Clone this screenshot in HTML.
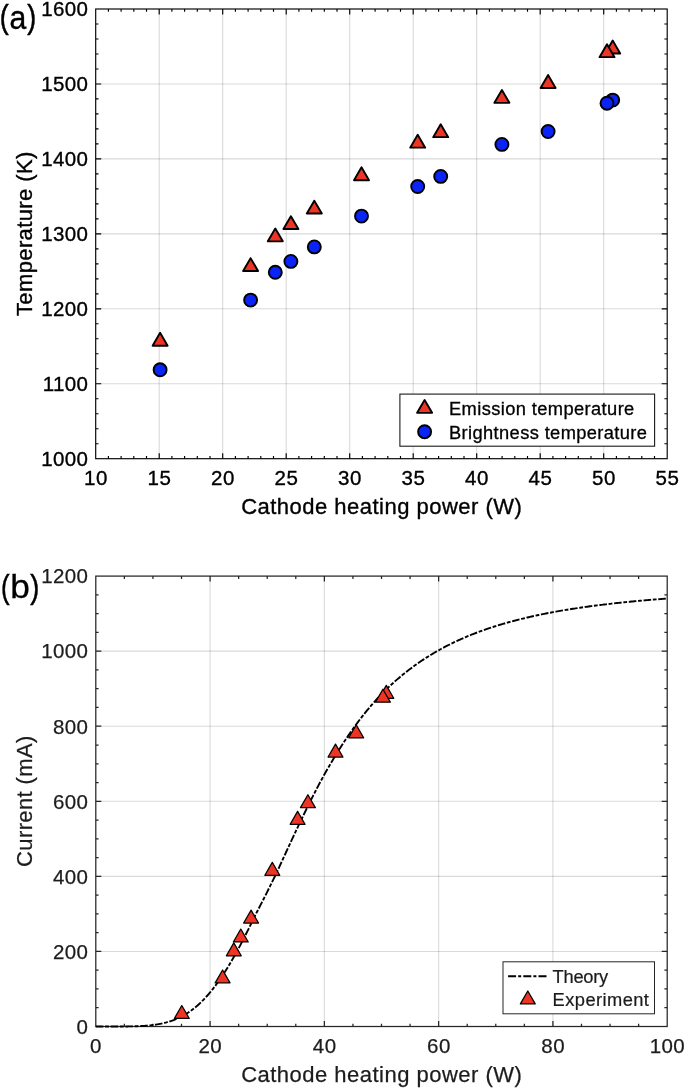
<!DOCTYPE html>
<html lang="en"><head><meta charset="utf-8"><title>Cathode heating power</title>
<style>html,body{margin:0;padding:0;background:#fff}svg{display:block}text{font-family:"Liberation Sans", sans-serif}</style></head><body>
<svg width="685" height="1088" viewBox="0 0 685 1088">
<rect width="685" height="1088" fill="#fff"/>
<line x1="159.20" y1="9.0" x2="159.20" y2="458.7" stroke="rgba(0,0,0,0.15)" stroke-width="1.1"/>
<line x1="222.70" y1="9.0" x2="222.70" y2="458.7" stroke="rgba(0,0,0,0.15)" stroke-width="1.1"/>
<line x1="286.20" y1="9.0" x2="286.20" y2="458.7" stroke="rgba(0,0,0,0.15)" stroke-width="1.1"/>
<line x1="349.70" y1="9.0" x2="349.70" y2="458.7" stroke="rgba(0,0,0,0.15)" stroke-width="1.1"/>
<line x1="413.20" y1="9.0" x2="413.20" y2="458.7" stroke="rgba(0,0,0,0.15)" stroke-width="1.1"/>
<line x1="476.70" y1="9.0" x2="476.70" y2="458.7" stroke="rgba(0,0,0,0.15)" stroke-width="1.1"/>
<line x1="540.20" y1="9.0" x2="540.20" y2="458.7" stroke="rgba(0,0,0,0.15)" stroke-width="1.1"/>
<line x1="603.70" y1="9.0" x2="603.70" y2="458.7" stroke="rgba(0,0,0,0.15)" stroke-width="1.1"/>
<line x1="95.7" y1="383.75" x2="667.2" y2="383.75" stroke="rgba(0,0,0,0.15)" stroke-width="1.1"/>
<line x1="95.7" y1="308.80" x2="667.2" y2="308.80" stroke="rgba(0,0,0,0.15)" stroke-width="1.1"/>
<line x1="95.7" y1="233.85" x2="667.2" y2="233.85" stroke="rgba(0,0,0,0.15)" stroke-width="1.1"/>
<line x1="95.7" y1="158.90" x2="667.2" y2="158.90" stroke="rgba(0,0,0,0.15)" stroke-width="1.1"/>
<line x1="95.7" y1="83.95" x2="667.2" y2="83.95" stroke="rgba(0,0,0,0.15)" stroke-width="1.1"/>
<path d="M159.20 458.7v-5.5M159.20 9.0v5.5M222.70 458.7v-5.5M222.70 9.0v5.5M286.20 458.7v-5.5M286.20 9.0v5.5M349.70 458.7v-5.5M349.70 9.0v5.5M413.20 458.7v-5.5M413.20 9.0v5.5M476.70 458.7v-5.5M476.70 9.0v5.5M540.20 458.7v-5.5M540.20 9.0v5.5M603.70 458.7v-5.5M603.70 9.0v5.5M108.40 458.7v-2.8M108.40 9.0v2.8M121.10 458.7v-2.8M121.10 9.0v2.8M133.80 458.7v-2.8M133.80 9.0v2.8M146.50 458.7v-2.8M146.50 9.0v2.8M171.90 458.7v-2.8M171.90 9.0v2.8M184.60 458.7v-2.8M184.60 9.0v2.8M197.30 458.7v-2.8M197.30 9.0v2.8M210.00 458.7v-2.8M210.00 9.0v2.8M235.40 458.7v-2.8M235.40 9.0v2.8M248.10 458.7v-2.8M248.10 9.0v2.8M260.80 458.7v-2.8M260.80 9.0v2.8M273.50 458.7v-2.8M273.50 9.0v2.8M298.90 458.7v-2.8M298.90 9.0v2.8M311.60 458.7v-2.8M311.60 9.0v2.8M324.30 458.7v-2.8M324.30 9.0v2.8M337.00 458.7v-2.8M337.00 9.0v2.8M362.40 458.7v-2.8M362.40 9.0v2.8M375.10 458.7v-2.8M375.10 9.0v2.8M387.80 458.7v-2.8M387.80 9.0v2.8M400.50 458.7v-2.8M400.50 9.0v2.8M425.90 458.7v-2.8M425.90 9.0v2.8M438.60 458.7v-2.8M438.60 9.0v2.8M451.30 458.7v-2.8M451.30 9.0v2.8M464.00 458.7v-2.8M464.00 9.0v2.8M489.40 458.7v-2.8M489.40 9.0v2.8M502.10 458.7v-2.8M502.10 9.0v2.8M514.80 458.7v-2.8M514.80 9.0v2.8M527.50 458.7v-2.8M527.50 9.0v2.8M552.90 458.7v-2.8M552.90 9.0v2.8M565.60 458.7v-2.8M565.60 9.0v2.8M578.30 458.7v-2.8M578.30 9.0v2.8M591.00 458.7v-2.8M591.00 9.0v2.8M616.40 458.7v-2.8M616.40 9.0v2.8M629.10 458.7v-2.8M629.10 9.0v2.8M641.80 458.7v-2.8M641.80 9.0v2.8M654.50 458.7v-2.8M654.50 9.0v2.8M95.7 383.75h5.5M667.2 383.75h-5.5M95.7 308.80h5.5M667.2 308.80h-5.5M95.7 233.85h5.5M667.2 233.85h-5.5M95.7 158.90h5.5M667.2 158.90h-5.5M95.7 83.95h5.5M667.2 83.95h-5.5M95.7 443.71h2.8M667.2 443.71h-2.8M95.7 428.72h2.8M667.2 428.72h-2.8M95.7 413.73h2.8M667.2 413.73h-2.8M95.7 398.74h2.8M667.2 398.74h-2.8M95.7 368.76h2.8M667.2 368.76h-2.8M95.7 353.77h2.8M667.2 353.77h-2.8M95.7 338.78h2.8M667.2 338.78h-2.8M95.7 323.79h2.8M667.2 323.79h-2.8M95.7 293.81h2.8M667.2 293.81h-2.8M95.7 278.82h2.8M667.2 278.82h-2.8M95.7 263.83h2.8M667.2 263.83h-2.8M95.7 248.84h2.8M667.2 248.84h-2.8M95.7 218.86h2.8M667.2 218.86h-2.8M95.7 203.87h2.8M667.2 203.87h-2.8M95.7 188.88h2.8M667.2 188.88h-2.8M95.7 173.89h2.8M667.2 173.89h-2.8M95.7 143.91h2.8M667.2 143.91h-2.8M95.7 128.92h2.8M667.2 128.92h-2.8M95.7 113.93h2.8M667.2 113.93h-2.8M95.7 98.94h2.8M667.2 98.94h-2.8M95.7 68.96h2.8M667.2 68.96h-2.8M95.7 53.97h2.8M667.2 53.97h-2.8M95.7 38.98h2.8M667.2 38.98h-2.8M95.7 23.99h2.8M667.2 23.99h-2.8" stroke="#000" stroke-width="1.15" fill="none"/>
<rect x="95.7" y="9.0" width="571.50" height="449.70" fill="none" stroke="#000" stroke-width="1.15"/>
<g>
<path d="M152.60 345.75L167.60 345.75L160.10 332.85Z" fill="#ee3524" stroke="#000" stroke-width="1.9" stroke-linejoin="round"/>
<path d="M243.10 271.05L258.10 271.05L250.60 258.15Z" fill="#ee3524" stroke="#000" stroke-width="1.9" stroke-linejoin="round"/>
<path d="M267.80 241.35L282.80 241.35L275.30 228.45Z" fill="#ee3524" stroke="#000" stroke-width="1.9" stroke-linejoin="round"/>
<path d="M283.40 229.05L298.40 229.05L290.90 216.15Z" fill="#ee3524" stroke="#000" stroke-width="1.9" stroke-linejoin="round"/>
<path d="M306.80 213.55L321.80 213.55L314.30 200.65Z" fill="#ee3524" stroke="#000" stroke-width="1.9" stroke-linejoin="round"/>
<path d="M354.00 180.25L369.00 180.25L361.50 167.35Z" fill="#ee3524" stroke="#000" stroke-width="1.9" stroke-linejoin="round"/>
<path d="M410.20 147.65L425.20 147.65L417.70 134.75Z" fill="#ee3524" stroke="#000" stroke-width="1.9" stroke-linejoin="round"/>
<path d="M433.20 137.15L448.20 137.15L440.70 124.25Z" fill="#ee3524" stroke="#000" stroke-width="1.9" stroke-linejoin="round"/>
<path d="M494.40 102.85L509.40 102.85L501.90 89.95Z" fill="#ee3524" stroke="#000" stroke-width="1.9" stroke-linejoin="round"/>
<path d="M540.60 87.95L555.60 87.95L548.10 75.05Z" fill="#ee3524" stroke="#000" stroke-width="1.9" stroke-linejoin="round"/>
<path d="M605.20 53.45L620.20 53.45L612.70 40.55Z" fill="#ee3524" stroke="#000" stroke-width="1.9" stroke-linejoin="round"/>
<path d="M599.50 57.15L614.50 57.15L607.00 44.25Z" fill="#ee3524" stroke="#000" stroke-width="1.9" stroke-linejoin="round"/>
</g><g>
<circle cx="160.10" cy="369.80" r="6.5" fill="#0a24f5" stroke="#000" stroke-width="1.9"/>
<circle cx="250.60" cy="300.10" r="6.5" fill="#0a24f5" stroke="#000" stroke-width="1.9"/>
<circle cx="275.30" cy="272.30" r="6.5" fill="#0a24f5" stroke="#000" stroke-width="1.9"/>
<circle cx="290.90" cy="261.40" r="6.5" fill="#0a24f5" stroke="#000" stroke-width="1.9"/>
<circle cx="314.30" cy="246.90" r="6.5" fill="#0a24f5" stroke="#000" stroke-width="1.9"/>
<circle cx="361.50" cy="216.10" r="6.5" fill="#0a24f5" stroke="#000" stroke-width="1.9"/>
<circle cx="417.70" cy="186.50" r="6.5" fill="#0a24f5" stroke="#000" stroke-width="1.9"/>
<circle cx="440.70" cy="176.40" r="6.5" fill="#0a24f5" stroke="#000" stroke-width="1.9"/>
<circle cx="501.90" cy="144.40" r="6.5" fill="#0a24f5" stroke="#000" stroke-width="1.9"/>
<circle cx="548.10" cy="131.50" r="6.5" fill="#0a24f5" stroke="#000" stroke-width="1.9"/>
<circle cx="612.70" cy="100.10" r="6.5" fill="#0a24f5" stroke="#000" stroke-width="1.9"/>
<circle cx="607.00" cy="103.20" r="6.5" fill="#0a24f5" stroke="#000" stroke-width="1.9"/>
</g>
<g font-size="20.5" fill="#000" stroke="#000" stroke-width="0.35" text-anchor="end">
<text x="88.0" y="466.00" textLength="46.72">1000</text>
<text x="88.0" y="391.05" textLength="45.16">1100</text>
<text x="88.0" y="316.10" textLength="46.72">1200</text>
<text x="88.0" y="241.15" textLength="46.72">1300</text>
<text x="88.0" y="166.20" textLength="46.72">1400</text>
<text x="88.0" y="91.25" textLength="46.72">1500</text>
<text x="88.0" y="16.30" textLength="46.72">1600</text>
</g>
<g font-size="20.5" fill="#000" stroke="#000" stroke-width="0.35" text-anchor="middle">
<text x="95.70" y="485.2" textLength="23.36">10</text>
<text x="159.20" y="485.2" textLength="23.36">15</text>
<text x="222.70" y="485.2" textLength="23.36">20</text>
<text x="286.20" y="485.2" textLength="23.36">25</text>
<text x="349.70" y="485.2" textLength="23.36">30</text>
<text x="413.20" y="485.2" textLength="23.36">35</text>
<text x="476.70" y="485.2" textLength="23.36">40</text>
<text x="540.20" y="485.2" textLength="23.36">45</text>
<text x="603.70" y="485.2" textLength="23.36">50</text>
<text x="667.20" y="485.2" textLength="23.36">55</text>
</g>
<text x="381.5" y="514.2" font-size="22" text-anchor="middle" fill="#000" stroke="#000" stroke-width="0.35" textLength="280.64">Cathode heating power (W)</text>
<text transform="translate(32.4 233.9) rotate(-90)" font-size="22" text-anchor="middle" fill="#000" stroke="#000" stroke-width="0.35" textLength="164.36">Temperature (K)</text>
<text transform="translate(-0.18 27.9) scale(0.789 0.975)" font-size="34" fill="#000" stroke="#000" stroke-width="0.55">(</text>
<text transform="translate(9.39 28.7) scale(0.890 0.953)" font-size="34" fill="#000" stroke="#000" stroke-width="0.4">a</text>
<text transform="translate(27.30 27.9) scale(0.789 0.975)" font-size="34" fill="#000" stroke="#000" stroke-width="0.55">)</text>
<rect x="399.9" y="394.1" width="254.7" height="52.1" fill="#fff" stroke="#1a1a1a" stroke-width="1.1"/>
<path d="M417.10 412.85L432.10 412.85L424.60 399.95Z" fill="#ee3524" stroke="#000" stroke-width="1.9" stroke-linejoin="round"/>
<circle cx="424.60" cy="431.70" r="6.5" fill="#0a24f5" stroke="#000" stroke-width="1.9"/>
<text x="449.0" y="415.2" font-size="18.3" fill="#000" stroke="#000" stroke-width="0.3" textLength="185.28">Emission temperature</text>
<text x="449.0" y="438.7" font-size="18.3" fill="#000" stroke="#000" stroke-width="0.3" textLength="198.01">Brightness temperature</text>
<line x1="210.08" y1="576.1" x2="210.08" y2="1026.5" stroke="rgba(0,0,0,0.15)" stroke-width="1.1"/>
<line x1="324.36" y1="576.1" x2="324.36" y2="1026.5" stroke="rgba(0,0,0,0.15)" stroke-width="1.1"/>
<line x1="438.64" y1="576.1" x2="438.64" y2="1026.5" stroke="rgba(0,0,0,0.15)" stroke-width="1.1"/>
<line x1="552.92" y1="576.1" x2="552.92" y2="1026.5" stroke="rgba(0,0,0,0.15)" stroke-width="1.1"/>
<line x1="95.8" y1="951.43" x2="667.2" y2="951.43" stroke="rgba(0,0,0,0.15)" stroke-width="1.1"/>
<line x1="95.8" y1="876.37" x2="667.2" y2="876.37" stroke="rgba(0,0,0,0.15)" stroke-width="1.1"/>
<line x1="95.8" y1="801.30" x2="667.2" y2="801.30" stroke="rgba(0,0,0,0.15)" stroke-width="1.1"/>
<line x1="95.8" y1="726.23" x2="667.2" y2="726.23" stroke="rgba(0,0,0,0.15)" stroke-width="1.1"/>
<line x1="95.8" y1="651.17" x2="667.2" y2="651.17" stroke="rgba(0,0,0,0.15)" stroke-width="1.1"/>
<path d="M210.08 1026.5v-5.5M210.08 576.1v5.5M324.36 1026.5v-5.5M324.36 576.1v5.5M438.64 1026.5v-5.5M438.64 576.1v5.5M552.92 1026.5v-5.5M552.92 576.1v5.5M124.37 1026.5v-2.8M124.37 576.1v2.8M152.94 1026.5v-2.8M152.94 576.1v2.8M181.51 1026.5v-2.8M181.51 576.1v2.8M238.65 1026.5v-2.8M238.65 576.1v2.8M267.22 1026.5v-2.8M267.22 576.1v2.8M295.79 1026.5v-2.8M295.79 576.1v2.8M352.93 1026.5v-2.8M352.93 576.1v2.8M381.50 1026.5v-2.8M381.50 576.1v2.8M410.07 1026.5v-2.8M410.07 576.1v2.8M467.21 1026.5v-2.8M467.21 576.1v2.8M495.78 1026.5v-2.8M495.78 576.1v2.8M524.35 1026.5v-2.8M524.35 576.1v2.8M581.49 1026.5v-2.8M581.49 576.1v2.8M610.06 1026.5v-2.8M610.06 576.1v2.8M638.63 1026.5v-2.8M638.63 576.1v2.8M95.8 951.43h5.5M667.2 951.43h-5.5M95.8 876.37h5.5M667.2 876.37h-5.5M95.8 801.30h5.5M667.2 801.30h-5.5M95.8 726.23h5.5M667.2 726.23h-5.5M95.8 651.17h5.5M667.2 651.17h-5.5M95.8 1007.73h2.8M667.2 1007.73h-2.8M95.8 988.97h2.8M667.2 988.97h-2.8M95.8 970.20h2.8M667.2 970.20h-2.8M95.8 932.67h2.8M667.2 932.67h-2.8M95.8 913.90h2.8M667.2 913.90h-2.8M95.8 895.13h2.8M667.2 895.13h-2.8M95.8 857.60h2.8M667.2 857.60h-2.8M95.8 838.83h2.8M667.2 838.83h-2.8M95.8 820.07h2.8M667.2 820.07h-2.8M95.8 782.53h2.8M667.2 782.53h-2.8M95.8 763.77h2.8M667.2 763.77h-2.8M95.8 745.00h2.8M667.2 745.00h-2.8M95.8 707.47h2.8M667.2 707.47h-2.8M95.8 688.70h2.8M667.2 688.70h-2.8M95.8 669.93h2.8M667.2 669.93h-2.8M95.8 632.40h2.8M667.2 632.40h-2.8M95.8 613.63h2.8M667.2 613.63h-2.8M95.8 594.87h2.8M667.2 594.87h-2.8" stroke="#262626" stroke-width="1.25" fill="none"/>
<rect x="95.8" y="576.1" width="571.40" height="450.40" fill="none" stroke="#262626" stroke-width="1.25"/>
<polyline points="95.80,1026.50 97.23,1026.50 98.66,1026.50 100.09,1026.50 101.51,1026.50 102.94,1026.50 104.37,1026.50 105.80,1026.50 107.23,1026.50 108.66,1026.50 110.09,1026.50 111.51,1026.50 112.94,1026.50 114.37,1026.50 115.80,1026.49 117.23,1026.49 118.66,1026.49 120.08,1026.48 121.51,1026.47 122.94,1026.47 124.37,1026.46 125.80,1026.44 127.23,1026.43 128.66,1026.41 130.08,1026.39 131.51,1026.36 132.94,1026.33 134.37,1026.29 135.80,1026.25 137.23,1026.20 138.66,1026.14 140.08,1026.08 141.51,1026.00 142.94,1025.92 144.37,1025.83 145.80,1025.72 147.23,1025.61 148.65,1025.48 150.08,1025.34 151.51,1025.18 152.94,1025.00 154.37,1024.81 155.80,1024.61 157.23,1024.38 158.65,1024.13 160.08,1023.87 161.51,1023.58 162.94,1023.26 164.37,1022.92 165.80,1022.56 167.23,1022.17 168.65,1021.75 170.08,1021.30 171.51,1020.82 172.94,1020.31 174.37,1019.77 175.80,1019.19 177.22,1018.58 178.65,1017.93 180.08,1017.24 181.51,1016.52 182.94,1015.75 184.37,1014.95 185.80,1014.10 187.22,1013.21 188.65,1012.27 190.08,1011.29 191.51,1010.27 192.94,1009.19 194.37,1008.07 195.80,1006.90 197.22,1005.69 198.65,1004.42 200.08,1003.10 201.51,1001.73 202.94,1000.31 204.37,998.84 205.79,997.32 207.22,995.74 208.65,994.11 210.08,992.43 211.51,990.70 212.94,988.91 214.37,987.08 215.79,985.19 217.22,983.24 218.65,981.25 220.08,979.20 221.51,977.11 222.94,974.96 224.37,972.77 225.79,970.52 227.22,968.23 228.65,965.89 230.08,963.50 231.51,961.07 232.94,958.60 234.36,956.08 235.79,953.52 237.22,950.92 238.65,948.28 240.08,945.60 241.51,942.88 242.94,940.13 244.36,937.35 245.79,934.53 247.22,931.68 248.65,928.80 250.08,925.90 251.51,922.97 252.94,920.01 254.36,917.03 255.87,914.03 257.44,911.01 259.01,907.97 260.59,904.92 262.16,901.85 263.73,898.77 265.30,895.67 266.85,892.57 268.40,889.46 269.94,886.34 271.48,883.21 273.03,880.09 274.57,876.96 276.11,873.82 277.59,870.69 279.02,867.57 280.45,864.44 281.88,861.32 283.31,858.21 284.73,855.10 286.16,852.00 287.59,848.91 289.02,845.84 290.45,842.77 291.88,839.72 293.29,836.68 294.70,833.66 296.12,830.66 297.53,827.67 298.95,824.70 300.36,821.75 301.77,818.81 303.17,815.90 304.56,813.01 305.95,810.14 307.34,807.30 308.74,804.47 310.13,801.67 311.52,798.90 312.92,796.15 314.31,793.42 315.70,790.72 317.09,788.05 318.49,785.40 319.88,782.77 321.27,780.18 322.68,777.61 324.08,775.07 325.49,772.55 326.90,770.07 328.30,767.61 329.71,765.18 331.11,762.78 332.52,760.40 333.92,758.05 335.33,755.74 336.74,753.44 338.14,751.18 339.55,748.95 340.95,746.74 342.36,744.56 343.76,742.41 345.17,740.29 346.57,738.19 347.96,736.12 349.35,734.08 350.75,732.07 352.14,730.08 353.53,728.12 354.92,726.19 356.32,724.28 357.71,722.40 359.10,720.54 360.50,718.71 361.89,716.91 363.28,715.13 364.67,713.38 366.07,711.65 367.47,709.95 368.87,708.27 370.27,706.61 371.67,704.98 373.07,703.38 374.47,701.79 375.87,700.23 377.27,698.69 378.67,697.18 380.07,695.68 381.50,694.21 382.93,692.76 384.36,691.33 385.79,689.92 387.21,688.54 388.64,687.17 390.07,685.82 391.50,684.50 392.93,683.19 394.36,681.91 395.79,680.64 397.21,679.39 398.64,678.16 400.07,676.95 401.50,675.76 402.93,674.58 404.36,673.42 405.78,672.28 407.21,671.16 408.64,670.05 410.07,668.96 411.50,667.89 412.93,666.83 414.36,665.79 415.78,664.77 417.21,663.76 418.64,662.76 420.07,661.78 421.50,660.82 422.93,659.86 424.36,658.93 425.78,658.01 427.21,657.10 428.64,656.20 430.07,655.32 431.50,654.45 432.93,653.59 434.35,652.75 435.78,651.92 437.21,651.10 438.64,650.30 440.07,649.50 441.50,648.72 442.93,647.95 444.35,647.19 445.78,646.44 447.21,645.70 448.64,644.98 450.07,644.26 451.50,643.55 452.93,642.86 454.35,642.17 455.78,641.50 457.21,640.83 458.64,640.18 460.07,639.53 461.50,638.90 462.92,638.27 464.35,637.65 465.78,637.04 467.21,636.44 468.64,635.85 470.07,635.27 471.50,634.69 472.92,634.12 474.35,633.56 475.78,633.01 477.21,632.47 478.64,631.94 480.07,631.41 481.50,630.89 482.92,630.37 484.35,629.87 485.78,629.37 487.21,628.88 488.64,628.39 490.07,627.91 491.49,627.44 492.92,626.98 494.35,626.52 495.78,626.07 497.21,625.62 498.64,625.18 500.07,624.75 501.49,624.32 502.92,623.90 504.35,623.48 505.78,623.07 507.21,622.67 508.64,622.27 510.07,621.87 511.49,621.48 512.92,621.10 514.35,620.72 515.78,620.35 517.21,619.98 518.64,619.62 520.06,619.26 521.49,618.90 522.92,618.55 524.35,618.21 525.78,617.87 527.21,617.53 528.64,617.20 530.06,616.88 531.49,616.55 532.92,616.24 534.35,615.92 535.78,615.61 537.21,615.30 538.64,615.00 540.06,614.70 541.49,614.41 542.92,614.12 544.35,613.83 545.78,613.55 547.21,613.27 548.63,612.99 550.06,612.72 551.49,612.45 552.92,612.18 554.35,611.92 555.78,611.66 557.21,611.41 558.63,611.15 560.06,610.90 561.49,610.66 562.92,610.41 564.35,610.17 565.78,609.93 567.21,609.70 568.63,609.47 570.06,609.24 571.49,609.01 572.92,608.79 574.35,608.57 575.78,608.35 577.20,608.13 578.63,607.92 580.06,607.71 581.49,607.50 582.92,607.30 584.35,607.10 585.78,606.89 587.20,606.70 588.63,606.50 590.06,606.31 591.49,606.12 592.92,605.93 594.35,605.74 595.78,605.56 597.20,605.37 598.63,605.19 600.06,605.01 601.49,604.84 602.92,604.66 604.35,604.49 605.77,604.32 607.20,604.15 608.63,603.99 610.06,603.82 611.49,603.66 612.92,603.50 614.35,603.34 615.77,603.18 617.20,603.03 618.63,602.88 620.06,602.72 621.49,602.57 622.92,602.43 624.35,602.28 625.77,602.13 627.20,601.99 628.63,601.85 630.06,601.71 631.49,601.57 632.92,601.43 634.34,601.30 635.77,601.16 637.20,601.03 638.63,600.90 640.06,600.77 641.49,600.64 642.92,600.51 644.34,600.38 645.77,600.26 647.20,600.14 648.63,600.01 650.06,599.89 651.49,599.77 652.92,599.66 654.34,599.54 655.77,599.42 657.20,599.31 658.63,599.20 660.06,599.08 661.49,598.97 662.91,598.86 664.34,598.76 665.77,598.65 667.20,598.54" fill="none" stroke="#000" stroke-width="1.9" stroke-dasharray="7.6 1.7 3.8 1.7" stroke-linejoin="round"/>
<g>
<path d="M174.35 1018.45L189.25 1018.45L181.80 1005.55Z" fill="#ee3524" stroke="#000" stroke-width="1.25" stroke-linejoin="round"/>
<path d="M215.15 982.85L230.05 982.85L222.60 969.95Z" fill="#ee3524" stroke="#000" stroke-width="1.25" stroke-linejoin="round"/>
<path d="M226.35 955.75L241.25 955.75L233.80 942.85Z" fill="#ee3524" stroke="#000" stroke-width="1.25" stroke-linejoin="round"/>
<path d="M233.35 941.95L248.25 941.95L240.80 929.05Z" fill="#ee3524" stroke="#000" stroke-width="1.25" stroke-linejoin="round"/>
<path d="M243.65 923.05L258.55 923.05L251.10 910.15Z" fill="#ee3524" stroke="#000" stroke-width="1.25" stroke-linejoin="round"/>
<path d="M264.85 875.25L279.75 875.25L272.30 862.35Z" fill="#ee3524" stroke="#000" stroke-width="1.25" stroke-linejoin="round"/>
<path d="M290.15 824.25L305.05 824.25L297.60 811.35Z" fill="#ee3524" stroke="#000" stroke-width="1.25" stroke-linejoin="round"/>
<path d="M300.45 807.65L315.35 807.65L307.90 794.75Z" fill="#ee3524" stroke="#000" stroke-width="1.25" stroke-linejoin="round"/>
<path d="M328.05 757.05L342.95 757.05L335.50 744.15Z" fill="#ee3524" stroke="#000" stroke-width="1.25" stroke-linejoin="round"/>
<path d="M348.75 737.75L363.65 737.75L356.20 724.85Z" fill="#ee3524" stroke="#000" stroke-width="1.25" stroke-linejoin="round"/>
<path d="M378.85 698.25L393.75 698.25L386.30 685.35Z" fill="#ee3524" stroke="#000" stroke-width="1.25" stroke-linejoin="round"/>
<path d="M375.45 702.15L390.35 702.15L382.90 689.25Z" fill="#ee3524" stroke="#000" stroke-width="1.25" stroke-linejoin="round"/>
</g>
<g font-size="20.5" fill="#1c1c1c" stroke="#1c1c1c" stroke-width="0.25" text-anchor="end">
<text x="88.0" y="1033.80" textLength="11.68">0</text>
<text x="88.0" y="958.73" textLength="35.04">200</text>
<text x="88.0" y="883.67" textLength="35.04">400</text>
<text x="88.0" y="808.60" textLength="35.04">600</text>
<text x="88.0" y="733.53" textLength="35.04">800</text>
<text x="88.0" y="658.47" textLength="46.72">1000</text>
<text x="88.0" y="583.40" textLength="46.72">1200</text>
</g>
<g font-size="20.5" fill="#1c1c1c" stroke="#1c1c1c" stroke-width="0.25" text-anchor="middle">
<text x="95.80" y="1053.0" textLength="11.68">0</text>
<text x="210.08" y="1053.0" textLength="23.36">20</text>
<text x="324.36" y="1053.0" textLength="23.36">40</text>
<text x="438.64" y="1053.0" textLength="23.36">60</text>
<text x="552.92" y="1053.0" textLength="23.36">80</text>
<text x="667.20" y="1053.0" textLength="35.04">100</text>
</g>
<text x="381.5" y="1081.7" font-size="22" text-anchor="middle" fill="#1c1c1c" stroke="#1c1c1c" stroke-width="0.25" textLength="280.64">Cathode heating power (W)</text>
<text transform="translate(32.2 801.3) rotate(-90)" font-size="22" text-anchor="middle" fill="#1c1c1c" stroke="#1c1c1c" stroke-width="0.25" textLength="131.17">Current (mA)</text>
<text transform="translate(0.99 597.52) scale(0.757 0.991)" font-size="34" fill="#000" stroke="#000" stroke-width="0.5">(</text>
<text transform="translate(10.23 598.45) scale(1.037 0.985)" font-size="34" fill="#000" stroke="#000" stroke-width="0.3">b</text>
<text transform="translate(30.20 597.52) scale(0.800 0.991)" font-size="34" fill="#000" stroke="#000" stroke-width="0.5">)</text>
<rect x="503.0" y="961.8" width="151.5" height="52.0" fill="#fff" stroke="#262626" stroke-width="1"/>
<line x1="508.1" y1="976.3" x2="546.8" y2="976.3" stroke="#000" stroke-width="1.9" stroke-dasharray="8 2.1 3 2.1"/>
<path d="M520.35 1003.85L535.25 1003.85L527.80 990.95Z" fill="#ee3524" stroke="#000" stroke-width="1.25" stroke-linejoin="round"/>
<text x="552.6" y="982.5" font-size="18.3" fill="#1c1c1c" stroke="#1c1c1c" stroke-width="0.22" textLength="55.6">Theory</text>
<text x="552.6" y="1006.3" font-size="18.3" fill="#1c1c1c" stroke="#1c1c1c" stroke-width="0.22" textLength="96.35">Experiment</text>
</svg></body></html>
